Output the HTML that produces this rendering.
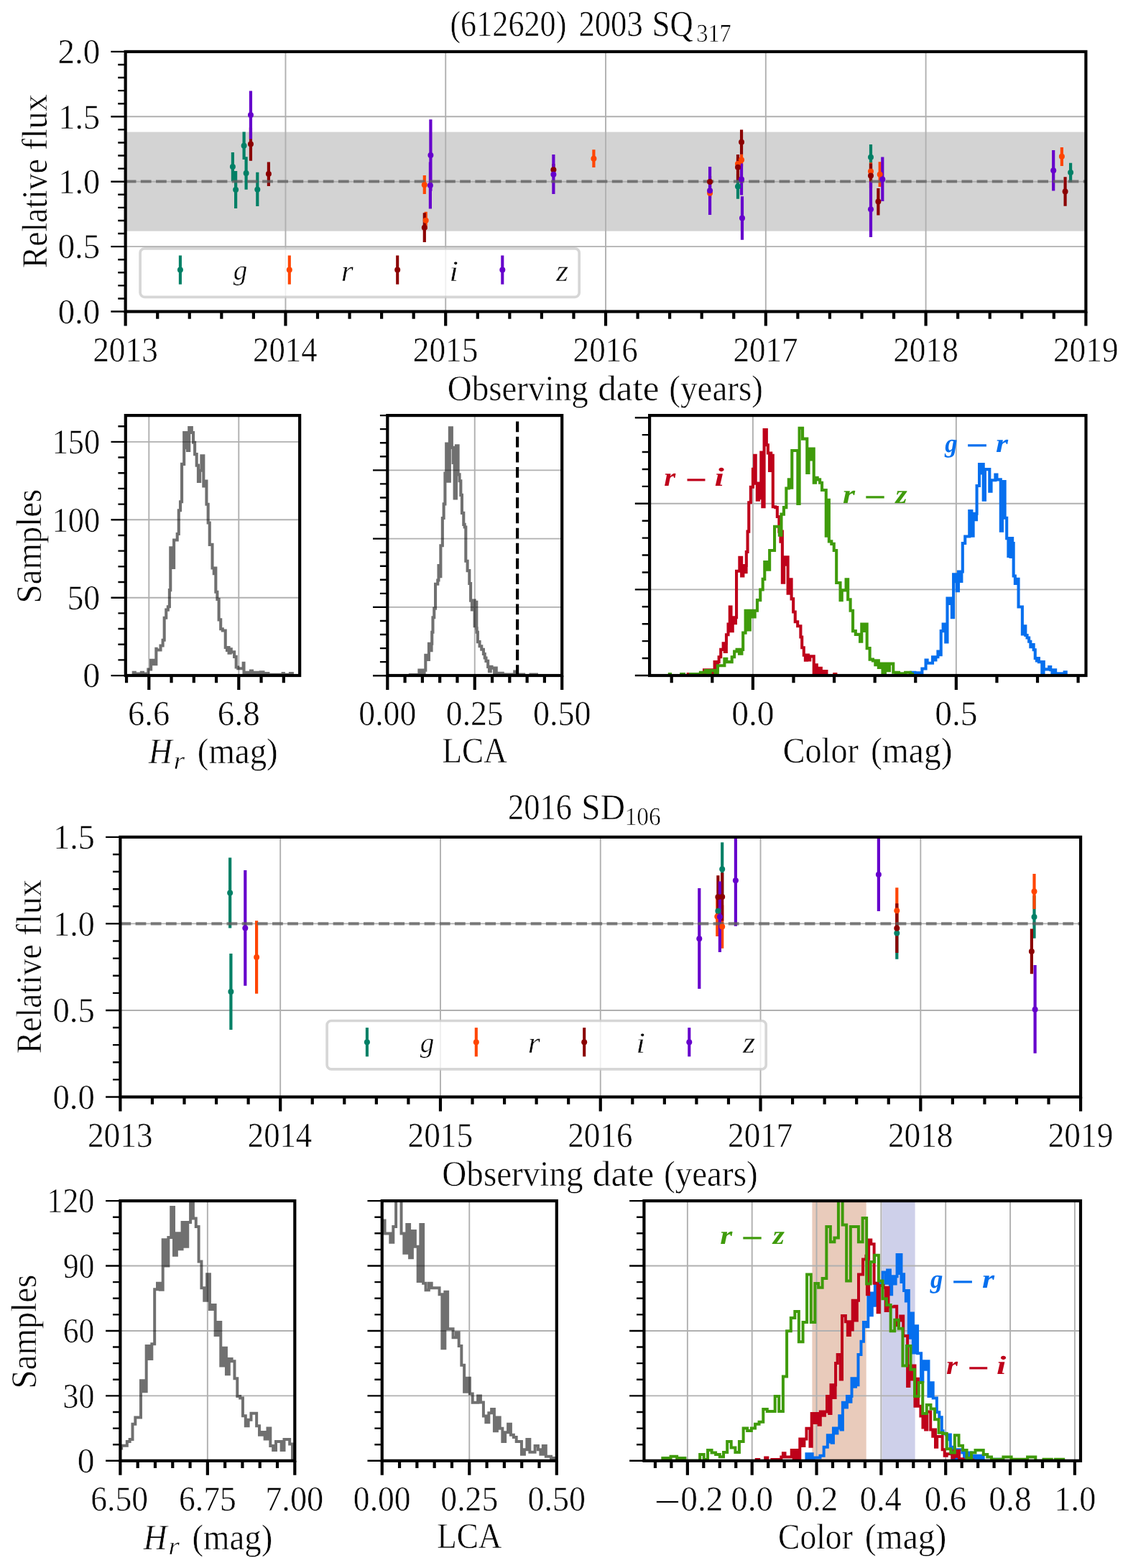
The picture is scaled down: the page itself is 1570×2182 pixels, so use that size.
<!DOCTYPE html>
<html lang="en"><head><meta charset="utf-8"><title>Light curves and colour posteriors</title>
<style>html,body{margin:0;padding:0;background:#fff}body{width:1570px;height:2182px;overflow:hidden}svg{display:block}.t{stroke:#fff;stroke-width:.55px;paint-order:fill stroke}</style>
</head><body>
<svg width="1570" height="2182" viewBox="0 0 1570 2182" font-family="'Liberation Serif', 'DejaVu Serif', serif" text-rendering="geometricPrecision">
<defs><clipPath id="c1"><rect x="174.65" y="71.9" width="1336.75" height="361.65"/></clipPath><clipPath id="c2"><rect x="174.3" y="578.1" width="243.35" height="361.9"/></clipPath><clipPath id="c3"><rect x="538.8" y="578.1" width="243.9" height="361.9"/></clipPath><clipPath id="c4"><rect x="903.6" y="578.1" width="608.4" height="361.9"/></clipPath><clipPath id="c5"><rect x="167.4" y="1164.85" width="1336.7" height="361.65"/></clipPath><clipPath id="c6"><rect x="166.9" y="1671.1" width="243.9" height="361.7"/></clipPath><clipPath id="c7"><rect x="531.25" y="1671.1" width="244.05" height="361.7"/></clipPath><clipPath id="c8"><rect x="895.9" y="1671.1" width="608.6" height="361.7"/></clipPath></defs>
<rect x="174.65" y="183.65" width="1336.75" height="137.97" fill="#d3d3d3" stroke="none" stroke-width="0"/>
<path d="M397.44 71.9V433.55M620.23 71.9V433.55M843.02 71.9V433.55M1065.82 71.9V433.55M1288.61 71.9V433.55M174.65 343.14H1511.4M174.65 252.73H1511.4M174.65 162.31H1511.4" stroke="#b0b0b0" stroke-width="1.9" fill="none"/>
<g clip-path="url(#c1)">
<path d="M323.9 212V252.3M328.1 238V290M339.6 183.4V222.1M342.6 218.2V263.7M358.3 239.7V287M1027 242.2V276.8M1212 201V236.6M1490.1 226.7V253.4" stroke="#008066" stroke-width="4.2" fill="none"/>
<path d="M590.8 244.1V269.9M592.7 294.7V318.9M826.4 208.3V232.9M988.06 262V276M1027 220V236M1032.05 214.6V231.5M1212 226.3V250.5M1224.7 225.2V260M1477.9 205V230.9" stroke="#ff4500" stroke-width="4.2" fill="none"/>
<path d="M348.95 177.5V223.7M373.9 225.4V258.9M590.8 296.3V337M770.4 228V244M988.06 245V261M1027 214.9V250.7M1032.05 180.6V214.8M1212 227.6V261.6M1222.4 261.9V299.6M1482.6 246.3V286.7" stroke="#8b0000" stroke-width="4.2" fill="none"/>
<path d="M348.95 126.4V193.5M599.4 166.2V265.8M598.9 225.5V290.6M770.4 214.9V269.9M988.06 232V298.9M1032.05 227.6V271.4M1033 273.2V333.7M1212 252.5V329.9M1228.3 218.6V280.1M1466.2 208.9V265.5" stroke="#6600cc" stroke-width="4.2" fill="none"/>
<line x1="174.65" y1="252.43" x2="1511.4" y2="252.43" stroke="#606060" stroke-opacity="0.78" stroke-width="4.1" stroke-dasharray="14.8 6.36"/>
<circle cx="323.9" cy="232" r="4" fill="#008066"/>
<circle cx="328.1" cy="264.1" r="4" fill="#008066"/>
<circle cx="339.6" cy="202.8" r="4" fill="#008066"/>
<circle cx="342.6" cy="241" r="4" fill="#008066"/>
<circle cx="358.3" cy="263.7" r="4" fill="#008066"/>
<circle cx="1027" cy="259.5" r="4" fill="#008066"/>
<circle cx="1212" cy="218.8" r="4" fill="#008066"/>
<circle cx="1490.1" cy="240" r="4" fill="#008066"/>
<circle cx="590.8" cy="257.3" r="4" fill="#ff4500"/>
<circle cx="592.7" cy="306.8" r="4" fill="#ff4500"/>
<circle cx="826.4" cy="220.7" r="4" fill="#ff4500"/>
<circle cx="988.06" cy="268.8" r="4" fill="#ff4500"/>
<circle cx="1027" cy="228.1" r="4" fill="#ff4500"/>
<circle cx="1032.05" cy="222.6" r="4" fill="#ff4500"/>
<circle cx="1212" cy="238.4" r="4" fill="#ff4500"/>
<circle cx="1224.7" cy="242.7" r="4" fill="#ff4500"/>
<circle cx="1477.9" cy="217.7" r="4" fill="#ff4500"/>
<circle cx="348.95" cy="200.6" r="4" fill="#8b0000"/>
<circle cx="373.9" cy="242.1" r="4" fill="#8b0000"/>
<circle cx="590.8" cy="316.7" r="4" fill="#8b0000"/>
<circle cx="770.4" cy="236.2" r="4" fill="#8b0000"/>
<circle cx="988.06" cy="252.9" r="4" fill="#8b0000"/>
<circle cx="1027" cy="232.8" r="4" fill="#8b0000"/>
<circle cx="1032.05" cy="197.7" r="4" fill="#8b0000"/>
<circle cx="1212" cy="244.6" r="4" fill="#8b0000"/>
<circle cx="1222.4" cy="280.4" r="4" fill="#8b0000"/>
<circle cx="1482.6" cy="266.6" r="4" fill="#8b0000"/>
<circle cx="348.95" cy="159.9" r="4" fill="#6600cc"/>
<circle cx="599.4" cy="216" r="4" fill="#6600cc"/>
<circle cx="598.9" cy="258.1" r="4" fill="#6600cc"/>
<circle cx="770.4" cy="242.7" r="4" fill="#6600cc"/>
<circle cx="988.06" cy="265.3" r="4" fill="#6600cc"/>
<circle cx="1032.05" cy="249.4" r="4" fill="#6600cc"/>
<circle cx="1033" cy="303.5" r="4" fill="#6600cc"/>
<circle cx="1212" cy="291.2" r="4" fill="#6600cc"/>
<circle cx="1228.3" cy="249.6" r="4" fill="#6600cc"/>
<circle cx="1466.2" cy="237.2" r="4" fill="#6600cc"/>
</g>
<path d="M219.21 433.55V443.85M263.77 433.55V443.85M308.33 433.55V443.85M352.88 433.55V443.85M442 433.55V443.85M486.56 433.55V443.85M531.12 433.55V443.85M575.67 433.55V443.85M664.79 433.55V443.85M709.35 433.55V443.85M753.91 433.55V443.85M798.47 433.55V443.85M887.58 433.55V443.85M932.14 433.55V443.85M976.7 433.55V443.85M1021.26 433.55V443.85M1110.38 433.55V443.85M1154.93 433.55V443.85M1199.49 433.55V443.85M1244.05 433.55V443.85M1333.17 433.55V443.85M1377.73 433.55V443.85M1422.28 433.55V443.85M1466.84 433.55V443.85M174.65 433.55V453.55M397.44 433.55V453.55M620.23 433.55V453.55M843.02 433.55V453.55M1065.82 433.55V453.55M1288.61 433.55V453.55M1511.4 433.55V453.55" stroke="#000" stroke-width="4.2" fill="none"/>
<path d="M174.65 415.47H164.25M174.65 397.38H164.25M174.65 379.3H164.25M174.65 361.22H164.25M174.65 325.06H164.25M174.65 306.97H164.25M174.65 288.89H164.25M174.65 270.81H164.25M174.65 234.64H164.25M174.65 216.56H164.25M174.65 198.48H164.25M174.65 180.4H164.25M174.65 144.23H164.25M174.65 126.15H164.25M174.65 108.06H164.25M174.65 89.98H164.25M174.65 433.55H154.35M174.65 343.14H154.35M174.65 252.73H154.35M174.65 162.31H154.35M174.65 71.9H154.35" stroke="#000" stroke-width="2.4" fill="none"/>
<rect x="174.65" y="71.9" width="1336.75" height="361.65" fill="none" stroke="#000" stroke-width="4.2"/>
<rect x="195.1" y="345.9" width="611.1" height="67.4" rx="6" ry="6" fill="#fff" fill-opacity="0.8" stroke="#ccc" stroke-opacity="0.8" stroke-width="3.7"/>
<line x1="250.9" y1="355.5" x2="250.9" y2="395.7" stroke="#008066" stroke-width="4.1"/>
<circle cx="250.9" cy="375.6" r="4" fill="#008066"/>
<line x1="402.8" y1="355.5" x2="402.8" y2="395.7" stroke="#ff4500" stroke-width="4.1"/>
<circle cx="402.8" cy="375.6" r="4" fill="#ff4500"/>
<line x1="553.2" y1="355.5" x2="553.2" y2="395.7" stroke="#8b0000" stroke-width="4.1"/>
<circle cx="553.2" cy="375.6" r="4" fill="#8b0000"/>
<line x1="699.3" y1="355.5" x2="699.3" y2="395.7" stroke="#6600cc" stroke-width="4.1"/>
<circle cx="699.3" cy="375.6" r="4" fill="#6600cc"/>
<text transform="matrix(0.8511 0 0 0.8537 324.7 389.26)" font-size="46" font-style="italic" fill="#000" class="t">g</text>
<text transform="matrix(0.9503 0 0 0.9112 474.85 390.5)" font-size="46" font-style="italic" fill="#000" class="t">r</text>
<text transform="matrix(1.0033 0 0 0.8860 625.26 390.5)" font-size="46" font-style="italic" fill="#000" class="t">i</text>
<text transform="matrix(0.9599 0 0 0.9310 773.94 390.5)" font-size="46" font-style="italic" fill="#000" class="t">z</text>
<text transform="matrix(0.9326 0 0 1.0000 129.21 503.15)" font-size="48.6" fill="#000" class="t">2013</text>
<text transform="matrix(0.9206 0 0 1.0000 352.03 503.15)" font-size="48.6" fill="#000" class="t">2014</text>
<text transform="matrix(0.9326 0 0 1.0000 574.79 503.15)" font-size="48.6" fill="#000" class="t">2015</text>
<text transform="matrix(0.9278 0 0 1.0000 797.6 503.15)" font-size="48.6" fill="#000" class="t">2016</text>
<text transform="matrix(0.9278 0 0 1.0000 1020.39 503.15)" font-size="48.6" fill="#000" class="t">2017</text>
<text transform="matrix(0.9326 0 0 1.0000 1243.17 503.15)" font-size="48.6" fill="#000" class="t">2018</text>
<text transform="matrix(0.9326 0 0 1.0000 1465.96 503.15)" font-size="48.6" fill="#000" class="t">2019</text>
<text transform="matrix(0.9620 0 0 1.0000 80.73 449.85)" font-size="48.6" fill="#000" class="t">0.0</text>
<text transform="matrix(0.9620 0 0 1.0000 80.73 359.44)" font-size="48.6" fill="#000" class="t">0.5</text>
<text transform="matrix(0.9492 0 0 1.0000 81.48 269.03)" font-size="48.6" fill="#000" class="t">1.0</text>
<text transform="matrix(0.9492 0 0 1.0000 81.48 178.61)" font-size="48.6" fill="#000" class="t">1.5</text>
<text transform="matrix(0.9661 0 0 1.0000 80.49 88.2)" font-size="48.6" fill="#000" class="t">2.0</text>
<text transform="matrix(0.9413 0 0 1.0000 622.64 556.55)" font-size="50" fill="#000" class="t">Observing</text>
<text transform="matrix(1.0270 0 0 1.0000 832.13 556.55)" font-size="50" fill="#000" class="t">date</text>
<text transform="matrix(0.9428 0 0 1.0000 931.2 556.55)" font-size="50" fill="#000" class="t">(years)</text>
<text transform="matrix(0 -0.9125 1.0000 0 64.7 373.29)" font-size="50" fill="#000" class="t">Relative</text>
<text transform="matrix(0 -0.9682 1.0000 0 64.7 208.98)" font-size="50" fill="#000" class="t">flux</text>
<text transform="matrix(0.8750 0 0 1.0000 626.41 50.4)" font-size="50.5" fill="#000" class="t">(612620)</text>
<text transform="matrix(0.8851 0 0 1.0000 805.39 50.4)" font-size="50.5" fill="#000" class="t">2003</text>
<text transform="matrix(0.8849 0 0 1.0000 907.7 50.4)" font-size="50.5" fill="#000" class="t">SQ</text>
<text transform="matrix(0.9178 0 0 1.0000 969.14 57.9)" font-size="35.4" fill="#000" class="t">317</text>
<path d="M207.3 578.1V940M332.3 578.1V940M174.8 831.69H417.15M174.8 723.28H417.15M174.8 614.87H417.15" stroke="#b0b0b0" stroke-width="1.9" fill="none"/>
<path d="M185.72 940V935.89H187.78V937.61H196.89V935.89H198.95V937.61H206.34V931.43H210.12V918.71H212.37V924.32H214.62V918.71H215.12V924.21H217.35V902.73H217.7V904.45H223.52V898.44H226.62V890.7H228.68V859.78H231.25V848.61H233.83V844.31H235.89V821.12H237.27V762.35H239.86V789.85H242.1V751.53H246.72V742.94H248.78V710.29H251.01V698.26H253.08V645.86H256.17V602.04H258.42V623.2H260.67V602.04H261V626.96H263.23V595.17H266.82V602.04H269.07V615.77H271.12V632.11H273.69V647.58H275.94V669.87H278.18V654.79H280.41V634.18H283.33V676.44H285.57V669.57H287.44V701.7H289.67V727.47H291.74V757.89H295.52V790.53H297.77V798.27H300.02V790.53H300.33V823.69H302.39V834H304.62V862.35H307.2V875.24H309.78V877.47H313.73V901.01H315.98V904.94H318.23V901.01H318.56V908.75H320.79V903.25H321.8V907.37H326.1V913.9H328.68V928.51H331.25V930.22H338.64V922.84H339.5V935.89H348.95V933.66H351.01V935.89H362.7V935.38H366.48V937.1H373.35V938.81H393.63V937.1H394.83V938.81H403.93V937.1H406.86V940" fill="none" stroke="#000" stroke-width="4.1" stroke-linejoin="miter" clip-path="url(#c2)" stroke-opacity="0.56"/>
<path d="M176.05 940V950.3M238.55 940V950.3M269.8 940V950.3M301.05 940V950.3M363.55 940V950.3M394.8 940V950.3M207.3 940V960M332.3 940V960" stroke="#000" stroke-width="4.2" fill="none"/>
<path d="M174.8 918.42H164.4M174.8 896.74H164.4M174.8 875.05H164.4M174.8 853.37H164.4M174.8 810.01H164.4M174.8 788.33H164.4M174.8 766.64H164.4M174.8 744.96H164.4M174.8 701.6H164.4M174.8 679.92H164.4M174.8 658.23H164.4M174.8 636.55H164.4M174.8 593.19H164.4M174.8 940.1H154.5M174.8 831.69H154.5M174.8 723.28H154.5M174.8 614.87H154.5" stroke="#000" stroke-width="2.4" fill="none"/>
<rect x="174.8" y="578.1" width="242.35" height="361.9" fill="none" stroke="#000" stroke-width="4.2"/>
<text transform="matrix(0.9608 0 0 1.0000 177.88 1009.4)" font-size="48.6" fill="#000" class="t">6.6</text>
<text transform="matrix(0.9690 0 0 1.0000 302.87 1009.4)" font-size="48.6" fill="#000" class="t">6.8</text>
<text transform="matrix(0.9098 0 0 1.0000 72.74 631.17)" font-size="48.6" fill="#000" class="t">150</text>
<text transform="matrix(0.9098 0 0 1.0000 72.74 739.58)" font-size="48.6" fill="#000" class="t">100</text>
<text transform="matrix(0.9396 0 0 1.0000 93.46 847.99)" font-size="48.6" fill="#000" class="t">50</text>
<text transform="matrix(0.9896 0 0 1.0000 115.18 956.4)" font-size="48.6" fill="#000" class="t">0</text>
<text transform="matrix(0.9058 0 0 1.0000 207.05 1062.3)" font-size="50" font-style="italic" fill="#000" class="t">H</text>
<text transform="matrix(1.1510 0 0 1.0000 241.59 1069.6)" font-size="35" font-style="italic" fill="#000" class="t">r</text>
<text transform="matrix(0.9374 0 0 1.0000 274.79 1062.3)" font-size="50" fill="#000" class="t">(mag)</text>
<text transform="matrix(0 -0.9368 1.0000 0 56.8 839.44)" font-size="50" fill="#000" class="t">Samples</text>
<path d="M660.75 578.1V940M539.3 844.91H782.2M539.3 749.62H782.2M539.3 654.33H782.2" stroke="#b0b0b0" stroke-width="1.9" fill="none"/>
<path d="M570.91 940V939.09H583.39V932.67H585.19V938.78H586.99V932.67H588.79V937.71H590.59V932.67H592.31V911.8H594.64V918.05H596.96V895.75H598.76V905.29H600.56V895.75H601.23V879.7H602.47V859.19H604.26V846.71H606.04V812.82H609.25V807.47H610.5V786.96H611.05V802.12H613.37V759.32H615.85V720.97H617.63V701.35H619.42V658.55H621.2V617.53H623.54V669.79H625.86V595.24H628.87V622.88H630.67V644.05H632.47V622.88H632.63V693.33H634.95V620.21H637.61V660.33H639.57V669.25H641.35V688.87H642.96V713.84H645.28V729.89H646.7V733.46H648.31V780.72H650.63V794.09H653.3V811.93H655.09V835.65H656.89V848.51H658.69V835.65H660.63V871.32H662.95V837.79H663.31V874.35H663.67V879.7H664.9V893.08H667.57V899.32H670.25V903.78H672.92V910.02H674.72V915.49H676.49V919.83H679.16V927.86H680.96V934.29H682.76V927.86H684.51V929.64H688.11V936.57H689.91V929.64H690.76V936.77H692.56V938.42H694.36V936.77H696.16V939.21H697.96V936.77H699.76V939.91H701.46V938.56H716.26V934.46H716.62V938.56H729.1V940.34H738.55V938.56H746.94V940" fill="none" stroke="#000" stroke-width="4.1" stroke-linejoin="miter" clip-path="url(#c3)" stroke-opacity="0.56"/>
<line x1="720.1" y1="940" x2="720.1" y2="578.1" stroke="#000" stroke-width="4.2" stroke-dasharray="14.8 6.37"/>
<path d="M563.59 940V950.3M587.88 940V950.3M612.17 940V950.3M636.46 940V950.3M685.04 940V950.3M709.33 940V950.3M733.62 940V950.3M757.91 940V950.3M539.3 940V960M660.75 940V960M782.2 940V960" stroke="#000" stroke-width="4.2" fill="none"/>
<path d="M539.3 921.14H528.9M539.3 902.08H528.9M539.3 883.03H528.9M539.3 863.97H528.9M539.3 825.85H528.9M539.3 806.79H528.9M539.3 787.74H528.9M539.3 768.68H528.9M539.3 730.56H528.9M539.3 711.5H528.9M539.3 692.45H528.9M539.3 673.39H528.9M539.3 635.27H528.9M539.3 616.21H528.9M539.3 597.16H528.9M539.3 578.1H528.9M539.3 940.2H519M539.3 844.91H519M539.3 749.62H519M539.3 654.33H519" stroke="#000" stroke-width="2.4" fill="none"/>
<rect x="539.3" y="578.1" width="242.9" height="361.9" fill="none" stroke="#000" stroke-width="4.2"/>
<text transform="matrix(0.9389 0 0 1.0000 499.37 1009.4)" font-size="48.6" fill="#000" class="t">0.00</text>
<text transform="matrix(0.9389 0 0 1.0000 620.82 1009.4)" font-size="48.6" fill="#000" class="t">0.25</text>
<text transform="matrix(0.9463 0 0 1.0000 741.96 1009.4)" font-size="48.6" fill="#000" class="t">0.50</text>
<text transform="matrix(0.9028 0 0 1.0000 615.45 1060.8)" font-size="50" fill="#000" class="t">LCA</text>
<path d="M1047.9 578.1V940M1330.85 578.1V940M904.1 820.36H1511.5M904.1 700.77H1511.5" stroke="#b0b0b0" stroke-width="1.9" fill="none"/>
<path d="M1267.93 940V935.7H1270.13V939.32H1272.33V935.7H1273.43V936.22H1283.4V930.55H1288.56V918.51H1290.63V922.81H1298.02V914.21H1300.22V918.5H1302.42V914.21H1305.42V906.47H1307.62V911.32H1309.72V878.09H1312.64V868.63H1316.27V893.57H1318.5V832.52H1320.7V839.91H1322.9V832.52H1324.87V859.18H1327.1V799.33H1329.3V809.08H1331.5V799.33H1331.75V822.2H1333.98V795.55H1336.18V808.87H1338.38V795.55H1339.81V755.99H1343.25V746.53H1349.27V710.93H1352.38V745.67H1354.62V714.72H1356.82V723.13H1359.02V714.72H1359.59V676.02H1363.03V645.93H1365.23V658.52H1367.43V645.93H1368.72V695.8H1370.96V653.15H1377.32V683.76H1379.56V668.28H1385.39V660.54H1387.45V667.42H1392.8V738.79H1395.03V670H1398.63V720.74H1401.21V749.11H1403.41V773.83H1405.61V749.11H1406.56V774.91H1408.79V749.11H1409.14V755.99H1410.67V801.56H1412.87V811.9H1414.97V805.86H1417.54V844.56H1422.89V882.39H1425.13V871.21H1427.33V883.94H1429.58V887.55H1432.16V892.71H1434.36V900.32H1436.46V897.01H1438.66V904.26H1440.76V915.93H1442.96V919.34H1445.16V915.93H1445.92V921.09H1450.32V937.08H1452.52V921.09H1452.8V931.41H1460.19V927.97H1462.26V932.27H1464.46V936.65H1466.66V932.27H1469.14V937.42H1481.69V935.19H1483.76V940" fill="none" stroke="#066fee" stroke-width="4.1" stroke-linejoin="miter" clip-path="url(#c4)"/>
<path d="M957.65 940V937.94H980V932.27H982.1V938.65H984.2V932.27H988.4V938.97H990.5V932.27H992.6V938.78H994.62V921.09H996.72V931.66H998.82V921.09H1000.64V914.21H1003.22V903.89H1006.66V895.29H1008.76V906.83H1010.86V895.29H1010.96V883.25H1013.54V868.63H1015.77V844.56H1017.51V878.09H1019.75V859.18H1021.85V867.12H1023.95V859.18H1025.06V794.69H1029.36V775.77H1032.13V801.56H1034.36V786.95H1036.46V796.08H1038.56V786.95H1038.82V768.03H1040.54V739.65H1042.26V699.24H1044.84V677.74H1047.93V652.81H1050.17V633.89H1051.72V672.58H1053.82V695.71H1055.92V672.58H1057.07V693.22H1059.3V629.59H1061.36V705.26H1063.6V598.12H1066.85V619.27H1068.91V630.45H1071.01V655.05H1073.11V630.45H1073.21V633.89H1075.79V705.26H1079.23V706.12H1081.81V719.02H1084.39V739.65H1086.49V753.59H1088.59V739.65H1088.88V810.68H1091.12V775.25H1093.22V785.65H1095.32V775.25H1096.62V825.64H1098.86V806.21H1101.59V833.38H1104.17V851.44H1106.75V865.2H1110.19V871.21H1114.39V886.5H1116.21V901.31H1118.79V911.63H1120.89V918.77H1122.99V911.63H1125V918.51H1127.23V913.35H1132.73V936.22H1134.97V925.39H1136.84V929.69H1138.94V937.88H1141.04V929.69H1142.86V933.99H1144.96V937.28H1147.06V933.99H1150.43V940H1161.27V937.94H1163.33V940" fill="none" stroke="#be011a" stroke-width="4.1" stroke-linejoin="miter" clip-path="url(#c4)"/>
<path d="M931.85 940V937.94H933.05V940H948.19V937.94H951.97V940H961.09V937.94H974.84V935.7H981.72V933.13H985.14V937.11H988.56V933.13H995.4V938.9H998.82V933.13H998.92V926.25H1008.38V916.79H1011.3V921.09H1018.7V914.21H1022.14V906.47H1025.58V903.89H1029V909.81H1032.42V903.89H1034.18V880.67H1037.62V849.72H1041.59V876.37H1043.82V849.72H1047.24V858.37H1050.66V849.72H1053.95V835.1H1058.25V820.48H1061.69V805.86H1064.27V782.13H1067.69V792.71H1071.15V765.97H1078.03V732.77H1084.87V744.79H1087.49V715.58H1090.93V706.12H1094.37V679.46H1097.81V667.42H1100.06V678.6H1102.29V627.01H1110.38V700.96H1112.61V595.71H1117.07V610.67H1123.28V657.97H1125.51V624.43H1128.93V639.45H1132.35V624.43H1132.73V671.72H1134.97V664.84H1137.7V667.42H1141.14V671.72H1144.07V682.04H1149.76V745.67H1152V695.8H1153.87V753.41H1157.31V756.85H1160.75V765.97H1164.19V811.02H1169.54V835.1H1171.77V821.34H1177.6V806.21H1180.18V834.24H1183.62V849.72H1187.06V878.09H1190.84V882.91H1197.05V892.71H1199.29V868.63H1202.71V877.87H1206.13V868.63H1206.67V902.17H1210.62V917.65H1214.92V919.37H1218.34V925.2H1221.76V919.37H1222.85V928.83H1225.08V923.67H1228.5V939.43H1231.92V923.67H1235.75V933.13H1237.98V923.67H1243.3V935.7H1246.72V939.71H1250.14V935.7H1251.04V937.42H1260.15V935.7H1266.99V937.89H1269.95V940" fill="none" stroke="#3f9b0b" stroke-width="4.1" stroke-linejoin="miter" clip-path="url(#c4)"/>
<path d="M934.72 940V950.3M991.31 940V950.3M1104.49 940V950.3M1161.08 940V950.3M1217.67 940V950.3M1274.26 940V950.3M1387.44 940V950.3M1444.03 940V950.3M1500.62 940V950.3M1047.9 940V960M1330.85 940V960" stroke="#000" stroke-width="4.2" fill="none"/>
<path d="M904.1 916.03H893.7M904.1 892.11H893.7M904.1 868.2H893.7M904.1 844.28H893.7M904.1 796.44H893.7M904.1 772.52H893.7M904.1 748.61H893.7M904.1 724.69H893.7M904.1 676.85H893.7M904.1 652.93H893.7M904.1 629.02H893.7M904.1 605.1H893.7M904.1 939.95H883.8M904.1 820.36H883.8M904.1 700.77H883.8M904.1 581.18H883.8" stroke="#000" stroke-width="2.4" fill="none"/>
<rect x="904.1" y="578.1" width="607.4" height="361.9" fill="none" stroke="#000" stroke-width="4.2"/>
<text transform="matrix(0.9796 0 0 1.0000 1018.15 1009.4)" font-size="48.6" fill="#000" class="t">0.0</text>
<text transform="matrix(0.9778 0 0 1.0000 1301.15 1009.4)" font-size="48.6" fill="#000" class="t">0.5</text>
<text transform="matrix(0.9247 0 0 1.0000 1089.65 1060.8)" font-size="50" fill="#000" class="t">Color</text>
<text transform="matrix(0.9513 0 0 1.0000 1211.96 1060.8)" font-size="50" fill="#000" class="t">(mag)</text>
<text transform="matrix(1.1251 0 0 1.0000 924.28 676.3)" font-size="36.5" font-style="italic" font-weight="bold" fill="#be011a">r</text>
<text transform="matrix(1.3151 0 0 1.0000 994.4 676.3)" font-size="36.5" font-style="italic" font-weight="bold" fill="#be011a">i</text>
<text transform="matrix(1.4730 0 0 1.2524 952.2 683.09)" font-size="36.5" font-style="italic" font-weight="bold" fill="#be011a">−</text>
<text transform="matrix(1.1982 0 0 1.0000 1173.03 699.8)" font-size="36.5" font-style="italic" font-weight="bold" fill="#3f9b0b">r</text>
<text transform="matrix(1.1355 0 0 1.0000 1246.54 699.8)" font-size="36.5" font-style="italic" font-weight="bold" fill="#3f9b0b">z</text>
<text transform="matrix(1.4965 0 0 1.2524 1200.93 706.69)" font-size="36.5" font-style="italic" font-weight="bold" fill="#3f9b0b">−</text>
<text transform="matrix(0.9520 0 0 1.0000 1315.29 628.5)" font-size="36.5" font-style="italic" font-weight="bold" fill="#066fee">g</text>
<text transform="matrix(1.1982 0 0 1.0000 1385.93 628.5)" font-size="36.5" font-style="italic" font-weight="bold" fill="#066fee">r</text>
<text transform="matrix(1.5201 0 0 1.2524 1342.86 635.39)" font-size="36.5" font-style="italic" font-weight="bold" fill="#066fee">−</text>
<path d="M390.18 1164.85V1526.5M612.97 1164.85V1526.5M835.75 1164.85V1526.5M1058.53 1164.85V1526.5M1281.32 1164.85V1526.5M167.4 1405.95H1504.1M167.4 1285.4H1504.1" stroke="#b0b0b0" stroke-width="1.9" fill="none"/>
<g clip-path="url(#c5)">
<path d="M320.15 1193.5V1291.4M321.4 1327V1433M1005.2 1172.3V1246.7M999.4 1250V1285M1248.3 1262.5V1334.7M1439.5 1246.3V1305.7" stroke="#008066" stroke-width="4.2" fill="none"/>
<path d="M357.1 1281.3V1382.7M998.3 1248V1303M1005.2 1259.5V1319.7M1248.3 1235.3V1299.1M1439.5 1216.1V1265" stroke="#ff4500" stroke-width="4.2" fill="none"/>
<path d="M999.4 1218.3V1278.3M1005.2 1214.5V1281.5M1248.3 1257.3V1326.1M1435.9 1292.5V1355.2" stroke="#8b0000" stroke-width="4.2" fill="none"/>
<path d="M341.3 1211.1V1371.7M973.3 1236.1V1376.1M1001.9 1226.5V1325M1023.9 1150V1288.7M1222.9 1150V1268M1440.6 1342.9V1465.7" stroke="#6600cc" stroke-width="4.2" fill="none"/>
<line x1="167.4" y1="1285.4" x2="1504.1" y2="1285.4" stroke="#606060" stroke-opacity="0.78" stroke-width="4.1" stroke-dasharray="14.8 6.36"/>
<circle cx="320.15" cy="1242.5" r="4" fill="#008066"/>
<circle cx="321.4" cy="1380" r="4" fill="#008066"/>
<circle cx="1005.2" cy="1209.5" r="4" fill="#008066"/>
<circle cx="999.4" cy="1267.8" r="4" fill="#008066"/>
<circle cx="1248.3" cy="1298.6" r="4" fill="#008066"/>
<circle cx="1439.5" cy="1276" r="4" fill="#008066"/>
<circle cx="357.1" cy="1332.1" r="4" fill="#ff4500"/>
<circle cx="998.3" cy="1275.5" r="4" fill="#ff4500"/>
<circle cx="1005.2" cy="1289.6" r="4" fill="#ff4500"/>
<circle cx="1248.3" cy="1267.2" r="4" fill="#ff4500"/>
<circle cx="1439.5" cy="1240.6" r="4" fill="#ff4500"/>
<circle cx="999.4" cy="1248.3" r="4" fill="#8b0000"/>
<circle cx="1005.2" cy="1248" r="4" fill="#8b0000"/>
<circle cx="1248.3" cy="1291.7" r="4" fill="#8b0000"/>
<circle cx="1435.9" cy="1324.1" r="4" fill="#8b0000"/>
<circle cx="341.3" cy="1291.4" r="4" fill="#6600cc"/>
<circle cx="973.3" cy="1306.3" r="4" fill="#6600cc"/>
<circle cx="1001.9" cy="1275.7" r="4" fill="#6600cc"/>
<circle cx="1023.9" cy="1225.2" r="4" fill="#6600cc"/>
<circle cx="1222.9" cy="1216.9" r="4" fill="#6600cc"/>
<circle cx="1440.6" cy="1404.7" r="4" fill="#6600cc"/>
</g>
<path d="M211.96 1526.5V1536.8M256.51 1526.5V1536.8M301.07 1526.5V1536.8M345.63 1526.5V1536.8M434.74 1526.5V1536.8M479.3 1526.5V1536.8M523.85 1526.5V1536.8M568.41 1526.5V1536.8M657.52 1526.5V1536.8M702.08 1526.5V1536.8M746.64 1526.5V1536.8M791.19 1526.5V1536.8M880.31 1526.5V1536.8M924.86 1526.5V1536.8M969.42 1526.5V1536.8M1013.98 1526.5V1536.8M1103.09 1526.5V1536.8M1147.65 1526.5V1536.8M1192.2 1526.5V1536.8M1236.76 1526.5V1536.8M1325.87 1526.5V1536.8M1370.43 1526.5V1536.8M1414.99 1526.5V1536.8M1459.54 1526.5V1536.8M167.4 1526.5V1546.5M390.18 1526.5V1546.5M612.97 1526.5V1546.5M835.75 1526.5V1546.5M1058.53 1526.5V1546.5M1281.32 1526.5V1546.5M1504.1 1526.5V1546.5" stroke="#000" stroke-width="4.2" fill="none"/>
<path d="M167.4 1502.39H157M167.4 1478.28H157M167.4 1454.17H157M167.4 1430.06H157M167.4 1381.84H157M167.4 1357.73H157M167.4 1333.62H157M167.4 1309.51H157M167.4 1261.29H157M167.4 1237.18H157M167.4 1213.07H157M167.4 1188.96H157M167.4 1526.5H147.1M167.4 1405.95H147.1M167.4 1285.4H147.1M167.4 1164.85H147.1" stroke="#000" stroke-width="2.4" fill="none"/>
<rect x="167.4" y="1164.85" width="1336.7" height="361.65" fill="none" stroke="#000" stroke-width="4.2"/>
<rect x="455.1" y="1420.5" width="611.1" height="67.4" rx="6" ry="6" fill="#fff" fill-opacity="0.8" stroke="#ccc" stroke-opacity="0.8" stroke-width="3.7"/>
<line x1="510.9" y1="1430.1" x2="510.9" y2="1470.3" stroke="#008066" stroke-width="4.1"/>
<circle cx="510.9" cy="1450.2" r="4" fill="#008066"/>
<line x1="662.8" y1="1430.1" x2="662.8" y2="1470.3" stroke="#ff4500" stroke-width="4.1"/>
<circle cx="662.8" cy="1450.2" r="4" fill="#ff4500"/>
<line x1="813.2" y1="1430.1" x2="813.2" y2="1470.3" stroke="#8b0000" stroke-width="4.1"/>
<circle cx="813.2" cy="1450.2" r="4" fill="#8b0000"/>
<line x1="959.3" y1="1430.1" x2="959.3" y2="1470.3" stroke="#6600cc" stroke-width="4.1"/>
<circle cx="959.3" cy="1450.2" r="4" fill="#6600cc"/>
<text transform="matrix(0.8511 0 0 0.8537 584.7 1463.86)" font-size="46" font-style="italic" fill="#000" class="t">g</text>
<text transform="matrix(0.9503 0 0 0.9112 734.85 1465.1)" font-size="46" font-style="italic" fill="#000" class="t">r</text>
<text transform="matrix(1.0033 0 0 0.8860 885.26 1465.1)" font-size="46" font-style="italic" fill="#000" class="t">i</text>
<text transform="matrix(0.9599 0 0 0.9310 1033.94 1465.1)" font-size="46" font-style="italic" fill="#000" class="t">z</text>
<text transform="matrix(0.9326 0 0 1.0000 121.96 1596.1)" font-size="48.6" fill="#000" class="t">2013</text>
<text transform="matrix(0.9206 0 0 1.0000 344.77 1596.1)" font-size="48.6" fill="#000" class="t">2014</text>
<text transform="matrix(0.9326 0 0 1.0000 567.53 1596.1)" font-size="48.6" fill="#000" class="t">2015</text>
<text transform="matrix(0.9278 0 0 1.0000 790.32 1596.1)" font-size="48.6" fill="#000" class="t">2016</text>
<text transform="matrix(0.9278 0 0 1.0000 1013.1 1596.1)" font-size="48.6" fill="#000" class="t">2017</text>
<text transform="matrix(0.9326 0 0 1.0000 1235.88 1596.1)" font-size="48.6" fill="#000" class="t">2018</text>
<text transform="matrix(0.9326 0 0 1.0000 1458.66 1596.1)" font-size="48.6" fill="#000" class="t">2019</text>
<text transform="matrix(0.9620 0 0 1.0000 73.43 1542.8)" font-size="48.6" fill="#000" class="t">0.0</text>
<text transform="matrix(0.9620 0 0 1.0000 73.43 1422.25)" font-size="48.6" fill="#000" class="t">0.5</text>
<text transform="matrix(0.9492 0 0 1.0000 74.18 1301.7)" font-size="48.6" fill="#000" class="t">1.0</text>
<text transform="matrix(0.9492 0 0 1.0000 74.18 1181.15)" font-size="48.6" fill="#000" class="t">1.5</text>
<text transform="matrix(0.9413 0 0 1.0000 615.37 1649.5)" font-size="50" fill="#000" class="t">Observing</text>
<text transform="matrix(1.0270 0 0 1.0000 824.85 1649.5)" font-size="50" fill="#000" class="t">date</text>
<text transform="matrix(0.9428 0 0 1.0000 923.93 1649.5)" font-size="50" fill="#000" class="t">(years)</text>
<text transform="matrix(0 -0.9125 1.0000 0 57.4 1466.24)" font-size="50" fill="#000" class="t">Relative</text>
<text transform="matrix(0 -0.9682 1.0000 0 57.4 1301.93)" font-size="50" fill="#000" class="t">flux</text>
<text transform="matrix(0.8826 0 0 1.0000 706.99 1140.4)" font-size="50.5" fill="#000" class="t">2016</text>
<text transform="matrix(0.9387 0 0 1.0000 809.32 1140.4)" font-size="50.5" fill="#000" class="t">SD</text>
<text transform="matrix(0.9443 0 0 1.0000 869.66 1147.9)" font-size="35.4" fill="#000" class="t">106</text>
<path d="M288.85 1671.1V2032.8M167.4 1942.38H410.3M167.4 1851.95H410.3M167.4 1761.52H410.3" stroke="#b0b0b0" stroke-width="1.9" fill="none"/>
<path d="M165.18 2032.8V2015.45H169.16V2011.65H176.83V2005.95H180.66V2003.01H184.5V1981.76H188.33V1972.61H196.01V1921.29H199.84V1936.32H203.68V1872.92H207.51V1891.06H211.31V1870.33H215.18V1794.31H219.02V1785.67H222.85V1794.65H226.69V1725.2H230.49V1761.48H234.36V1722.09H238.2V1679.93H242.03V1746.79H245.87V1716.21H249.67V1738.16H253.57V1701.01H257.41V1734.7H261.24V1701.01H265.08V1663H268.91V1695.48H272.75V1707.06H276.59V1755.43H280.42V1792.23H284.26V1809.86H288.09V1773.23H291.93V1821.95H295.76V1815.9H299.6V1857.89H303.43V1840.09H307.27V1900.56H311.11V1875.85H314.94V1912.14H318.78V1891.06H322.61V1894.17H326.45V1918.36H330.28V1942.89H334.12V1945.48H337.95V1970.19H341.79V1984.35H345.63V1975.72H349.46V1966.73H357.13V1984.35H360.97V1996.79H364.8V1992.99H368.64V2002.5H372.47V1987.46H376.31V2012H380.15V2018.04H383.98V2005.95H391.65V2018.04H395.49V2003.01H403.16V2009.41H406.99V2029.28H412.25V2032.8" fill="none" stroke="#000" stroke-width="4" stroke-linejoin="miter" clip-path="url(#c6)" stroke-opacity="0.56"/>
<path d="M191.69 2032.8V2043.1M215.98 2032.8V2043.1M240.27 2032.8V2043.1M264.56 2032.8V2043.1M313.14 2032.8V2043.1M337.43 2032.8V2043.1M361.72 2032.8V2043.1M386.01 2032.8V2043.1M167.4 2032.8V2052.8M288.85 2032.8V2052.8M410.3 2032.8V2052.8" stroke="#000" stroke-width="4.2" fill="none"/>
<path d="M167.4 2010.19H157M167.4 1987.59H157M167.4 1964.98H157M167.4 1919.77H157M167.4 1897.16H157M167.4 1874.56H157M167.4 1829.34H157M167.4 1806.74H157M167.4 1784.13H157M167.4 1738.92H157M167.4 1716.31H157M167.4 1693.71H157M167.4 2032.8H147.1M167.4 1942.38H147.1M167.4 1851.95H147.1M167.4 1761.52H147.1M167.4 1671.1H147.1" stroke="#000" stroke-width="2.4" fill="none"/>
<rect x="167.4" y="1671.1" width="242.9" height="361.7" fill="none" stroke="#000" stroke-width="4.2"/>
<text transform="matrix(0.9389 0 0 1.0000 126.27 2102.2)" font-size="48.6" fill="#000" class="t">6.50</text>
<text transform="matrix(0.9389 0 0 1.0000 248.92 2102.2)" font-size="48.6" fill="#000" class="t">6.75</text>
<text transform="matrix(0.9531 0 0 1.0000 369.19 2102.2)" font-size="48.6" fill="#000" class="t">7.00</text>
<text transform="matrix(0.9083 0 0 1.0000 65.15 1687.4)" font-size="48.6" fill="#000" class="t">120</text>
<text transform="matrix(0.8894 0 0 1.0000 88.1 1777.82)" font-size="48.6" fill="#000" class="t">90</text>
<text transform="matrix(0.8991 0 0 1.0000 87.65 1868.25)" font-size="48.6" fill="#000" class="t">60</text>
<text transform="matrix(0.9040 0 0 1.0000 87.42 1958.67)" font-size="48.6" fill="#000" class="t">30</text>
<text transform="matrix(0.9798 0 0 1.0000 107.7 2049.1)" font-size="48.6" fill="#000" class="t">0</text>
<text transform="matrix(0.9058 0 0 1.0000 199.75 2155.5)" font-size="50" font-style="italic" fill="#000" class="t">H</text>
<text transform="matrix(1.1510 0 0 1.0000 234.29 2162.8)" font-size="35" font-style="italic" fill="#000" class="t">r</text>
<text transform="matrix(0.9374 0 0 1.0000 267.49 2155.5)" font-size="50" fill="#000" class="t">(mag)</text>
<text transform="matrix(0 -0.9368 1.0000 0 49.5 1932.44)" font-size="50" fill="#000" class="t">Samples</text>
<path d="M653.27 1671.1V2032.8M531.75 1942.38H774.8M531.75 1851.95H774.8M531.75 1761.52H774.8" stroke="#b0b0b0" stroke-width="1.9" fill="none"/>
<path d="M530.37 2032.8V1698.42H535.55V1716.56H543.32V1728.65H547.3V1707.06H551.1V1663H558.53V1716.56H562.33V1743.86H566.3V1704.12H570.1V1750.25H573.9V1713.1H577.88V1734.7H581.68V1783.08H585.31V1704.12H589.11V1785.67H592.56V1795.17H596.88V1785.67H600.68V1792.23H611.57V1801.22H615.37V1876.37H619.34V1797.76H623.14V1849.25H630.57V1861.34H634.89V1854.43H638.69V1872.92H642.32V1899.7H646.12V1936.84H649.92V1917.84H653.9V1939.43H657.7V1951.87H665.13V1942.54H668.93V1951.53H672.9V1970.53H676.36V1979.17H680.33V1966.21H684.13V1961.03H687.93V1991.27H691.91V1972.61H695.71V1987.81H699.34V2005.95H703.14V1993.34H707.11V1981.76H710.91V1996.79H714.89V1999.9H718.69V2005.95H725.94V2023.75H729.92V2017.18H733.37V2003.01H737.35V2020.64H744.6V2012H748.92V2017.18H752.38V2023.75H755.83V2012H759.81V2026.68H767.06V2028.93H775.7V2032.8" fill="none" stroke="#000" stroke-width="4" stroke-linejoin="miter" clip-path="url(#c7)" stroke-opacity="0.56"/>
<path d="M556.05 2032.8V2043.1M580.36 2032.8V2043.1M604.66 2032.8V2043.1M628.97 2032.8V2043.1M677.58 2032.8V2043.1M701.88 2032.8V2043.1M726.19 2032.8V2043.1M750.5 2032.8V2043.1M531.75 2032.8V2052.8M653.27 2032.8V2052.8M774.8 2032.8V2052.8" stroke="#000" stroke-width="4.2" fill="none"/>
<path d="M531.75 2010.19H521.35M531.75 1987.59H521.35M531.75 1964.98H521.35M531.75 1919.77H521.35M531.75 1897.16H521.35M531.75 1874.56H521.35M531.75 1829.34H521.35M531.75 1806.74H521.35M531.75 1784.13H521.35M531.75 1738.92H521.35M531.75 1716.31H521.35M531.75 1693.71H521.35M531.75 2032.8H511.45M531.75 1942.38H511.45M531.75 1851.95H511.45M531.75 1761.52H511.45M531.75 1671.1H511.45" stroke="#000" stroke-width="2.4" fill="none"/>
<rect x="531.75" y="1671.1" width="243.05" height="361.7" fill="none" stroke="#000" stroke-width="4.2"/>
<text transform="matrix(0.9389 0 0 1.0000 491.82 2102.2)" font-size="48.6" fill="#000" class="t">0.00</text>
<text transform="matrix(0.9389 0 0 1.0000 613.35 2102.2)" font-size="48.6" fill="#000" class="t">0.25</text>
<text transform="matrix(0.9463 0 0 1.0000 734.56 2102.2)" font-size="48.6" fill="#000" class="t">0.50</text>
<text transform="matrix(0.9028 0 0 1.0000 608.15 2153.8)" font-size="50" fill="#000" class="t">LCA</text>
<rect x="1130.4" y="1671.1" width="75.3" height="361.7" fill="#e9cbbb" stroke="none" stroke-width="0"/>
<rect x="1227.6" y="1671.1" width="46" height="361.7" fill="#ced0ea" stroke="none" stroke-width="0"/>
<path d="M956.86 1671.1V2032.8M1046.7 1671.1V2032.8M1136.54 1671.1V2032.8M1226.38 1671.1V2032.8M1316.22 1671.1V2032.8M1406.06 1671.1V2032.8M1495.9 1671.1V2032.8M896.4 1942.38H1504M896.4 1851.95H1504M896.4 1761.52H1504" stroke="#b0b0b0" stroke-width="1.9" fill="none"/>
<path d="M1122.46 2032.8V2023.23H1125.2V2030.01H1127.94V2023.23H1130.68V2031.16H1132.83V2028.41H1141.47V2025.82H1146.65V2013.73H1151.83V1997.31H1154.57V2006.51H1157.31V1997.31H1157.71V2007.68H1159.95V1987.46H1162.69V1994.56H1165.43V1987.46H1168.24V1970.19H1170.66V1989.54H1172.91V1951.87H1176.71V1958.44H1178.96V1942.89H1181.7V1950.64H1184.44V1942.89H1185.52V1918.36H1188.26V1929.75H1191V1918.36H1192.26V1927.34H1194.51V1885.01H1198.48V1866.87H1201.94V1840.09H1206.08V1846.14H1208.33V1799.49H1211.07V1830.32H1213.81V1799.49H1215.58V1816.77H1217.83V1785.67H1220.57V1815.95H1223.31V1785.67H1228.71V1770.46H1232.86V1785.67H1235.11V1767.53H1238.91V1801.22H1241.15V1776.17H1243.89V1786.55H1246.63V1776.17H1248.58V1745.93H1251.32V1771.89H1254.06V1745.93H1254.46V1783.94H1256.7V1773.23H1258.09V1796.03H1260.83V1810.48H1263.57V1796.03H1264.82V1861.69H1267.07V1827.48H1270.87V1882.42H1273.12V1845.27H1277.09V1883.28H1282.1V1922.16H1284.35V1894.17H1287.09V1905.81H1289.83V1894.17H1292.47V1942.89H1294.71V1924.23H1298.69V1945.48H1303.87V1965.35H1307.33V1972.26H1310.78V1991.27H1312.51V1994.72H1316.83V1996.45H1319.57V2003.21H1322.31V1996.45H1322.87V2013.73H1325.61V2032.31H1328.35V2013.73H1328.92V2017.18H1331.66V2032.6H1334.4V2017.18H1339.29V2021.5H1342.03V2028.48H1344.77V2021.5H1347.51V2029.75H1350.25V2021.5H1352.07V2032.73H1354.32V2025.82H1357.06V2031.85H1359.8V2025.82H1362.54V2031.03H1365.28V2025.82H1368.66V2032.73H1380.75V2030.66H1392.85V2034.46" fill="none" stroke="#066fee" stroke-width="4" stroke-linejoin="miter" clip-path="url(#c8)"/>
<path d="M1052.77 2032.8V2031H1056.23V2034.46H1065.21V2028.41H1068.32V2034.46H1074.37V2031H1087.33V2027.55H1089.92V2022.36H1092.51V2027.55H1101.73V2018.04H1104.78V2032.51H1107.83V2018.04H1111.06V2029.28H1113.3V2002.5H1116.35V2012.06H1119.4V2002.5H1122.46V1987.81H1127.47V2012.86H1129.72V1967.08H1132.77V1979.92H1135.82V1967.08H1139.56V1982.63H1141.81V1964.49H1144.86V1969.84H1147.91V1964.49H1150.97V1942.89H1154.25V1967.08H1156.5V1927.34H1159.55V1944.89H1162.6V1927.34H1163.06V1897.11H1165.65V1885.01H1169.8V1919.57H1172.05V1830.93H1176.88V1839.23H1179.93V1857.98H1182.98V1839.23H1184.49V1850.46H1186.73V1809.86H1189.78V1837.58H1192.83V1809.86H1195.02V1773.57H1201.07V1752.5H1205.39V1747.66H1206.95V1801.22H1209.19V1725.54H1212.3V1731.24H1216.62V1785.67H1221.63V1826.27H1223.88V1789.12H1229.58V1791.71H1232.63V1824.03H1235.68V1791.71H1236.49V1818.49H1245.13V1817.63H1248.18V1844.13H1251V1837.5H1253.25V1831.45H1257.22V1859.1H1263.1V1929.07H1265.34V1900.56H1268.39V1919.52H1271.44V1900.56H1273.46V1956.71H1275.71V1918.7H1277.95V1956.71H1281.41V1970.53H1284.46V1986.45H1287.51V1970.53H1288.15V1989.54H1290.39V1964.49H1295.23V1989.54H1298.28V1998.78H1301.33V1989.54H1301.97V2013.73H1304.22V1999.04H1311.64V2017.18H1314.69V2025.63H1317.69V2023.23H1325.29V2028.41H1327.54V2018.91H1330.59V2026.84H1333.64V2018.91H1334.97V2030.14H1340.15V2031.87H1353.97V2034.46" fill="none" stroke="#be011a" stroke-width="4" stroke-linejoin="miter" clip-path="url(#c8)"/>
<path d="M922.33 2032.8V2028.93H931.49V2032.73H933.56V2026.68H942.2V2032.73H944.27V2028.93H953.43V2032.73H974.16V2024.09H979.69V2031H985.04V2018.04H990.57V2021.5H996.1V2024.09H1001.8V2027.2H1006.99V2020.98H1012.17V2005.95H1017.7V2014.59H1023.4V2020.98H1028.93V2005.95H1034.63V1987.46H1040.16V1990.92H1045.86V1987.46H1051.04V1981.76H1056.57V1978.83H1062.27V1961.03H1067.8V1963.97H1078.69V1942.89H1084.22V1963.97H1089.92V1915.59H1095.1V1852.18H1100.8V1834.04H1106.33V1825.06H1111.86V1867.22H1117.56V1840.09H1123.09V1773.57H1128.79V1840.09H1134.32V1786.01H1139.11V1791.71H1144.64V1779.1H1150.34V1707.06H1155.87V1728.31H1161.4V1722.61H1166.93V1645.72H1172.63V1704.47H1178.16V1782.56H1183.86V1707.06H1194.92V1728.31H1200.62V1694.96H1206.15V1786.53H1211.67V1755.95H1217.2V1746.79H1222.9V1782.56H1228.43V1807.26H1233.96V1815.9H1239.66V1852.18H1245.19V1836.64H1250.72V1848.73H1256.42V1900.56H1261.95V1872.92H1267.48V1905.74H1273.01V1942.89H1278.71V1923.88H1284.24V1967.08H1289.77V1954.98H1295.47V1960.51H1301V1975.37H1306.53V1993.86H1312.05V1995.07H1317.76V2016.32H1323.28V2021.5H1328.81V1997.31H1334.51V2011.65H1340.04V2018.04H1345.57V2028.93H1351.98V2021.5H1357.51V2018.04H1368.74V2024.09H1374.27V2027.55H1379.97V2030.66H1396.39V2027.55H1407.62V2030.66H1430.08V2027.55H1441.31V2032.73H1452.54V2030.66H1463.77V2032.73H1468.95V2030.66H1480.18V2032.73" fill="none" stroke="#3f9b0b" stroke-width="4" stroke-linejoin="miter" clip-path="url(#c8)"/>
<path d="M911.94 2032.8V2043.1M934.4 2032.8V2043.1M979.32 2032.8V2043.1M1001.78 2032.8V2043.1M1024.24 2032.8V2043.1M1069.16 2032.8V2043.1M1091.62 2032.8V2043.1M1114.08 2032.8V2043.1M1159 2032.8V2043.1M1181.46 2032.8V2043.1M1203.92 2032.8V2043.1M1248.84 2032.8V2043.1M1271.3 2032.8V2043.1M1293.76 2032.8V2043.1M1338.68 2032.8V2043.1M1361.14 2032.8V2043.1M1383.6 2032.8V2043.1M1428.52 2032.8V2043.1M1450.98 2032.8V2043.1M1473.44 2032.8V2043.1M956.86 2032.8V2052.8M1046.7 2032.8V2052.8M1136.54 2032.8V2052.8M1226.38 2032.8V2052.8M1316.22 2032.8V2052.8M1406.06 2032.8V2052.8M1495.9 2032.8V2052.8" stroke="#000" stroke-width="4.2" fill="none"/>
<path d="M896.4 2010.19H886M896.4 1987.59H886M896.4 1964.98H886M896.4 1919.77H886M896.4 1897.16H886M896.4 1874.56H886M896.4 1829.34H886M896.4 1806.74H886M896.4 1784.13H886M896.4 1738.92H886M896.4 1716.31H886M896.4 1693.71H886M896.4 2032.8H876.1M896.4 1942.38H876.1M896.4 1851.95H876.1M896.4 1761.52H876.1M896.4 1671.1H876.1" stroke="#000" stroke-width="2.4" fill="none"/>
<rect x="896.4" y="1671.1" width="607.6" height="361.7" fill="none" stroke="#000" stroke-width="4.2"/>
<text transform="matrix(0.9745 0 0 1.0000 947.21 2102.2)" font-size="48.6" fill="#000" class="t">0.2</text>
<text transform="matrix(0.9673 0 0 1.0000 1017.32 2102.2)" font-size="48.6" fill="#000" class="t">0.0</text>
<text transform="matrix(0.9709 0 0 1.0000 1107.4 2102.2)" font-size="48.6" fill="#000" class="t">0.2</text>
<text transform="matrix(0.9573 0 0 1.0000 1196.72 2102.2)" font-size="48.6" fill="#000" class="t">0.4</text>
<text transform="matrix(0.9625 0 0 1.0000 1286.75 2102.2)" font-size="48.6" fill="#000" class="t">0.6</text>
<text transform="matrix(0.9778 0 0 1.0000 1376.36 2102.2)" font-size="48.6" fill="#000" class="t">0.8</text>
<text transform="matrix(0.9511 0 0 1.0000 1467.47 2102.2)" font-size="48.6" fill="#000" class="t">1.0</text>
<text transform="matrix(1.3629 0 0 1.1111 910.29 2107.67)" font-size="48.6" fill="#000" class="t">−</text>
<text transform="matrix(0.9121 0 0 1.0000 1082.98 2154.6)" font-size="50" fill="#000" class="t">Color</text>
<text transform="matrix(0.9522 0 0 1.0000 1203.76 2154.6)" font-size="50" fill="#000" class="t">(mag)</text>
<text transform="matrix(1.1982 0 0 1.0000 1002.13 1731.2)" font-size="36.5" font-style="italic" font-weight="bold" fill="#3f9b0b">r</text>
<text transform="matrix(1.1355 0 0 1.0000 1075.64 1731.2)" font-size="36.5" font-style="italic" font-weight="bold" fill="#3f9b0b">z</text>
<text transform="matrix(1.4965 0 0 1.2524 1030.03 1738.09)" font-size="36.5" font-style="italic" font-weight="bold" fill="#3f9b0b">−</text>
<text transform="matrix(0.9520 0 0 1.0000 1295.09 1791.7)" font-size="36.5" font-style="italic" font-weight="bold" fill="#066fee">g</text>
<text transform="matrix(1.1982 0 0 1.0000 1367.03 1791.7)" font-size="36.5" font-style="italic" font-weight="bold" fill="#066fee">r</text>
<text transform="matrix(1.5201 0 0 1.2524 1322.66 1798.59)" font-size="36.5" font-style="italic" font-weight="bold" fill="#066fee">−</text>
<text transform="matrix(1.1251 0 0 1.0000 1316.98 1911.8)" font-size="36.5" font-style="italic" font-weight="bold" fill="#be011a">r</text>
<text transform="matrix(1.3151 0 0 1.0000 1387 1911.8)" font-size="36.5" font-style="italic" font-weight="bold" fill="#be011a">i</text>
<text transform="matrix(1.4730 0 0 1.2524 1344.9 1918.59)" font-size="36.5" font-style="italic" font-weight="bold" fill="#be011a">−</text>
</svg>
</body></html>
